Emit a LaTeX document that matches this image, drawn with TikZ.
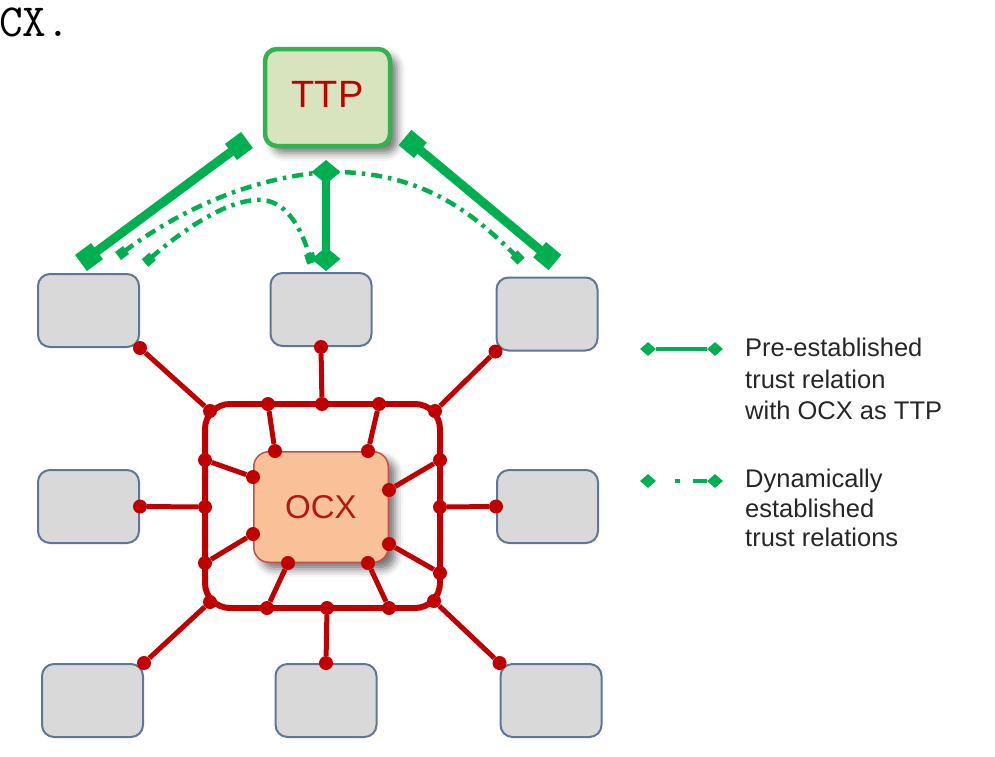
\documentclass[tikz,border=0pt]{standalone}
\usepackage{fontspec}
\setmainfont{Liberation Sans}
\usetikzlibrary{arrows.meta,shapes.geometric,shadows.blur}
\definecolor{grn}{RGB}{0,176,80}
\definecolor{ttpborder}{RGB}{50,178,80}
\definecolor{ttpfill}{RGB}{215,228,189}
\definecolor{ttptext}{RGB}{192,0,0}
\definecolor{netred}{RGB}{192,0,0}
\definecolor{ocxfill}{RGB}{249,193,152}
\definecolor{ocxborder}{RGB}{192,80,77}
\definecolor{ocxtext}{RGB}{180,24,24}
\definecolor{boxfill}{RGB}{217,217,217}
\definecolor{boxborder}{RGB}{96,118,150}
\definecolor{legtext}{RGB}{38,38,38}
\begin{document}
\begin{tikzpicture}[x=1pt,y=-1pt,
  graybox/.style={draw=boxborder, line width=2pt, fill=boxfill, rounded corners=12pt, minimum width=101pt, minimum height=73pt, inner sep=0pt},
  rdot/.style={circle, fill=netred, inner sep=0pt, minimum size=14pt},
  net/.style={draw=netred, line width=5pt},
  ring/.style={draw=netred, line width=6pt, rounded corners=25pt},
  pre/.style={draw=grn, line width=9pt},
  dyn/.style={draw=grn, line width=4.5pt, dash pattern=on 11pt off 6pt on 3.5pt off 6pt},
  legdia/.style={diamond, fill=grn, inner sep=0pt, minimum width=16pt, minimum height=14pt},
  legtxt/.style={anchor=north west, inner sep=0pt, align=left, text=legtext},
  shadowed/.style={blur shadow={shadow xshift=7pt, shadow yshift=-7pt, shadow blur radius=8pt, shadow opacity=55}}
]
\useasboundingbox (0,0) rectangle (995,756);

% caption fragment
\node[font=\ttfamily\fontsize{46}{46}\selectfont, anchor=base west, inner sep=0pt] (capt) at (-1,36) {CX.};

% gray boxes
\node[graybox] (b1) at (88.5,310.5) {};
\node[graybox] (b2) at (321,309.5) {};
\node[graybox] (b3) at (547,314) {};
\node[graybox] (b4) at (88.5,506.5) {};
\node[graybox] (b5) at (547.5,506.5) {};
\node[graybox] (b6) at (92.5,700.5) {};
\node[graybox] (b7) at (326,700.5) {};
\node[graybox] (b8) at (551,700.5) {};

% dynamic (dash-dot) relations
\coordinate (dl) at (118,256);
\coordinate (dm) at (326,172);
\coordinate (dr) at (521,261);
\coordinate (il) at (145,263);
\coordinate (ir) at (312,263);
\draw[dyn, {Square[length=10pt,width=10pt]}-{Square[length=10pt,width=10pt]}]
  (dl) .. controls (180,210) and (250,178) .. (dm) .. controls (420,170) and (472,212) .. (dr);
\draw[dyn, {Square[length=10pt,width=10pt]}-{Square[length=10pt,width=10pt]}]
  (il) .. controls (185,228) and (230,198) .. (262,200) .. controls (290,202) and (303,235) .. (ir);

% TTP
\node[draw=ttpborder, line width=4.5pt, fill=ttpfill, rounded corners=12pt,
      minimum width=125pt, minimum height=97pt, shadowed, text depth=6pt,
      font=\fontsize{38}{40}\selectfont, text=ttptext] (ttp) at (327.5,97.5) {TTP};

% pre-established relations
\coordinate (pl1) at (247,140);
\coordinate (pl2) at (81,263);
\coordinate (pr1) at (405,137.5);
\coordinate (pr2) at (555,262.5);
\coordinate (pv1) at (326,160);
\coordinate (pv2) at (326,271);
\draw[pre, {Square[length=20pt,width=20pt]}-{Square[length=20pt,width=20pt]}] (pl1) -- (pl2);
\draw[pre, {Square[length=20pt,width=20pt]}-{Square[length=20pt,width=20pt]}] (pr1) -- (pr2);
\draw[draw=grn, line width=8pt, {Diamond[length=24pt,width=29pt]}-{Diamond[length=24pt,width=29pt]}] (pv1) -- (pv2);

% ring
\draw[ring] (205,404) rectangle (440,608);

% OCX
\node[draw=ocxborder, line width=1.5pt, fill=ocxfill, rounded corners=15pt,
      minimum width=134.5pt, minimum height=110.5pt, shadowed,
      font=\fontsize{33}{35}\selectfont, text=ocxtext] (ocx) at (321,507) {OCX};

% ring dots
\node[rdot] (rt1) at (268,404) {};
\node[rdot] (rt2) at (322,404) {};
\node[rdot] (rt3) at (379,404) {};
\node[rdot] (rtl) at (210,411) {};
\node[rdot] (rtr) at (435,411) {};
\node[rdot] (rl1) at (205,460) {};
\node[rdot] (rl2) at (205,507) {};
\node[rdot] (rl3) at (205,563) {};
\node[rdot] (rr1) at (440,460) {};
\node[rdot] (rr2) at (440,507) {};
\node[rdot] (rr3) at (440,573) {};
\node[rdot] (rbl) at (210,602) {};
\node[rdot] (rbr) at (434,601) {};
\node[rdot] (rb1) at (267,608) {};
\node[rdot] (rb2) at (327,608) {};
\node[rdot] (rb3) at (389,608) {};

% OCX dots
\node[rdot] (ot1) at (275,451) {};
\node[rdot] (ot2) at (368,451) {};
\node[rdot] (ol1) at (253,477) {};
\node[rdot] (ol2) at (253,534) {};
\node[rdot] (or1) at (389,490) {};
\node[rdot] (or2) at (389,544) {};
\node[rdot] (ob1) at (288,563) {};
\node[rdot] (ob2) at (368,563) {};

% box dots
\node[rdot] (d1) at (b1.south east) {};
\node[rdot] (d2) at (b2.south) {};
\node[rdot] (d3) at (b3.south west) {};
\node[rdot] (d4) at (b4.east) {};
\node[rdot] (d5) at (b5.west) {};
\node[rdot] (d6) at (b6.north east) {};
\node[rdot] (d7) at (b7.north) {};
\node[rdot] (d8) at (b8.north west) {};

% network connectors
\draw[net] (rtl) -- (d1);
\draw[net] (rt2) -- (d2);
\draw[net] (rtr) -- (d3);
\draw[net] (rl2) -- (d4);
\draw[net] (rr2) -- (d5);
\draw[net] (rbl) -- (d6);
\draw[net] (rb2) -- (d7);
\draw[net] (rbr) -- (d8);
\draw[net] (rt1) -- (ot1);
\draw[net] (rt3) -- (ot2);
\draw[net] (rl1) -- (ol1);
\draw[net] (rl3) -- (ol2);
\draw[net] (rr1) -- (or1);
\draw[net] (rr3) -- (or2);
\draw[net] (rb1) -- (ob1);
\draw[net] (rb3) -- (ob2);

% legend
\node[legdia] (la1) at (648,349) {};
\node[legdia] (la2) at (715,349) {};
\draw[draw=grn, line width=4.5pt] (la1) -- (la2);
\node[legdia] (lb1) at (648,481) {};
\node[legdia] (lb2) at (715,481) {};
\draw[draw=grn, line width=4.5pt, dash pattern=on 0pt off 19pt on 5pt off 13pt on 40pt] (lb1) -- (lb2);

\node[legtxt, font=\fontsize{25.5}{31.5}\selectfont] (t1) at (745,338) {Pre-established\\trust relation\\with OCX as TTP};
\node[legtxt, font=\fontsize{25.5}{29.5}\selectfont] (t2) at (745,469) {Dynamically\\established\\trust relations};
\end{tikzpicture}
\end{document}
